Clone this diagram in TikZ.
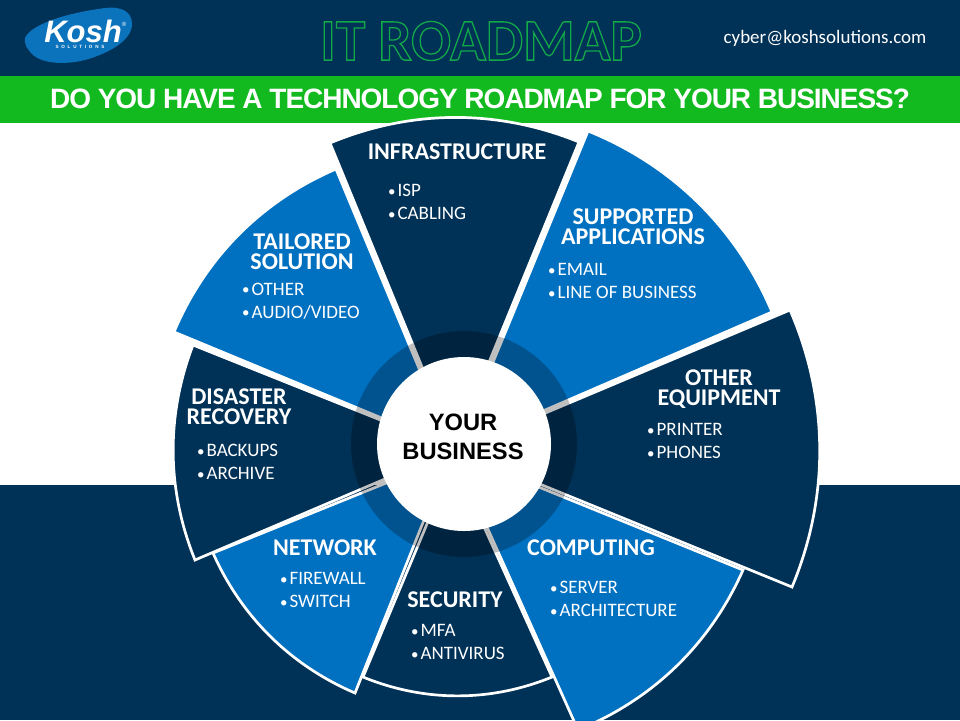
\documentclass[tikz,border=0pt]{standalone}
\usepackage{fontspec}
\setmainfont{Carlito}
\newfontfamily\arialf{Liberation Sans}
\newfontfamily\bannerf[LetterSpace=-3.7]{Liberation Sans}
\newfontfamily\logotrack[LetterSpace=60]{Liberation Sans}
\definecolor{navy}{HTML}{003156}
\definecolor{bandgreen}{HTML}{12BA20}
\definecolor{wedgeblue}{HTML}{0070C0}
\definecolor{logoblue}{HTML}{0B72BC}
\newcommand{\wedgeshape}[7]{%
  \path[wedgeline,fill=#1] (#2) to[bend left=#7,looseness=.9] (#3) -- (#4) -- (#5) -- cycle;}
\newcommand{\headnode}[4]{\node[headtext] (#1) at (#2,#3) {#4};}
\newcommand{\itemsnode}[5]{\node[itemtext] (#1) at (#2,#3) {\itemrow{#4}\\\itemrow{#5}};}
\newcommand{\itemrow}[1]{\makebox[9.4pt][l]{\raisebox{.5pt}{\fontsize{15}{15}\selectfont •}}#1}
\tikzset{
  wedgeline/.style={draw=white,line width=2.7pt,miter limit=20},
  headtext/.style={text=white,font=\fontsize{24}{20}\selectfont\bfseries,align=center,inner sep=0pt},
  itemtext/.style={text=white,font=\fontsize{19}{23}\selectfont,align=left,inner sep=0pt,anchor=west},
}
\begin{document}
\begin{tikzpicture}[x=1pt,y=-1pt]
\useasboundingbox (0,0) rectangle (960,720);
\clip (0,0) rectangle (960,720);
% background
\fill[navy] (0,0) rectangle (960,77);
\fill[white] (0,123) rectangle (960,485);
\fill[navy] (0,485) rectangle (960,720);
\fill[bandgreen] (0,76) rectangle (960,123);
% wedges
\wedgeshape{navy}{330,143}{579,142}{480.5,383}{431.5,390}{}{22.4}
\wedgeshape{wedgeblue}{588,131}{772,312}{522,420}{484.5,383}{}{22.6}
\wedgeshape{navy}{790,310}{792,587}{520,476}{524,422}{}{23.1}
\wedgeshape{wedgeblue}{743,570}{578,730}{478,507}{519,479}{}{22}
\wedgeshape{navy}{552,677}{363,677}{437,500}{475,507}{}{22.3}
\wedgeshape{wedgeblue}{355,693}{213,553}{406,475}{432,500}{}{21.4}
\wedgeshape{navy}{195,560}{193,345}{403,429}{406,470}{}{21.5}
\wedgeshape{wedgeblue}{174,332}{336,169}{428,390}{401,426}{}{22}
% rings
\fill[black,opacity=.25] (464,444) circle[radius=113];
\node[circle,fill=white,minimum size=174pt,inner sep=0pt] (hub) at (464,444) {};
\node[align=center,font=\arialf\fontsize{23.7}{29}\selectfont\bfseries,text=black,inner sep=0pt] (hubtext) at (463,436.5) {YOUR\\BUSINESS};
% header
\path[fill=logoblue] (25,38) .. controls (30,26) and (60,14) .. (105,8) .. controls (122,6) and (132,12) .. (132,24) .. controls (132,40) and (110,53) .. (85,60) .. controls (65,65) and (42,64) .. (32,54) .. controls (27,49) and (24,44) .. (25,38) -- cycle;
\node[text=white,inner sep=0pt,font=\arialf\fontsize{31}{31}\selectfont\bfseries\itshape] (kosh) at (83,31) {Kosh};
\node[text=white,inner sep=0pt,font=\logotrack\fontsize{4.6}{5}\selectfont\bfseries] (solutions) at (80,46.5) {SOLUTIONS};
\node[text=white,inner sep=0pt,font=\arialf\fontsize{6}{6}\selectfont] (reg) at (124,24) {®};
\node[inner sep=0pt,font=\fontsize{59}{59}\selectfont\bfseries] (title) at (481,41) {\special{pdf:code q 1 Tr 1.3 w 0.07 0.66 0.29 RG}IT ROADMAP\special{pdf:code Q}};
\node[text=white,inner sep=0pt,font=\fontsize{19}{20}\selectfont] (email) at (825,38.5) {cyber@koshsolutions.com};
\node[text=white,inner sep=0pt,font=\bannerf\fontsize{28}{28}\selectfont\bfseries] (banner) at (480,99) {DO YOU HAVE A TECHNOLOGY ROADMAP FOR YOUR BUSINESS?};
% headings
\headnode{h1}{457}{152}{INFRASTRUCTURE}
\headnode{h2}{633}{227}{SUPPORTED\\APPLICATIONS}
\headnode{h3}{719}{389}{OTHER\\EQUIPMENT}
\headnode{h4}{591}{548}{COMPUTING}
\headnode{h5}{455}{600}{SECURITY}
\headnode{h6}{325}{548}{NETWORK}
\headnode{h7}{239}{407}{DISASTER\\RECOVERY}
\headnode{h8}{302}{252}{TAILORED\\SOLUTION}
% lists
\itemsnode{l1}{388}{202}{ISP}{CABLING}
\itemsnode{l2}{548}{281}{EMAIL}{LINE OF BUSINESS}
\itemsnode{l3}{647}{441}{PRINTER}{PHONES}
\itemsnode{l4}{550}{599}{SERVER}{ARCHITECTURE}
\itemsnode{l5}{411}{642}{MFA}{ANTIVIRUS}
\itemsnode{l6}{280}{590}{FIREWALL}{SWITCH}
\itemsnode{l7}{197}{462}{BACKUPS}{ARCHIVE}
\itemsnode{l8}{242}{301}{OTHER}{AUDIO/VIDEO}
\end{tikzpicture}
\end{document}
